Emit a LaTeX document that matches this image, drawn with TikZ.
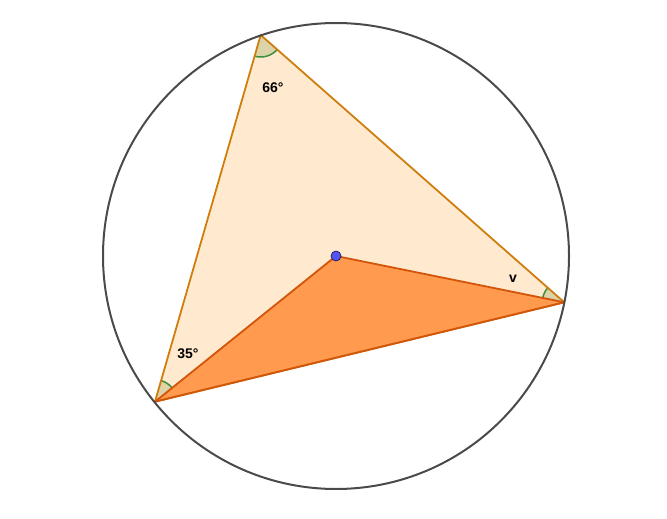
\documentclass[tikz,border=0pt]{standalone}
\usepackage{fontspec}
\setmainfont{Liberation Sans}
\usetikzlibrary{angles}
\definecolor{trifill}{HTML}{FFE9CF}
\definecolor{tristroke}{HTML}{CF7E0E}
\definecolor{innerfill}{HTML}{FF9A4E}
\definecolor{innerstroke}{HTML}{D2550A}
\definecolor{circcol}{HTML}{4A4A4A}
\definecolor{angfill}{HTML}{DDD3A8}
\definecolor{angstroke}{HTML}{3D8F3D}
\definecolor{ptfill}{HTML}{5454F2}
\definecolor{ptstroke}{HTML}{24246E}
\tikzset{
  anglemark/.style={draw=angstroke, line width=1.5pt, fill=angfill, angle radius=22pt},
  lbl/.style={font=\bfseries\fontsize{14}{16}\selectfont, text=black, inner sep=0pt},
}
\begin{document}
\begin{tikzpicture}[x=1pt,y=-1pt]
\useasboundingbox (0,0) rectangle (667,519);
\coordinate (A) at (260.7,35);
\coordinate (B) at (155,401.7);
\coordinate (C) at (564.3,302.3);
\coordinate (O) at (336,256);
% big triangle
\fill[trifill] (A) -- (B) -- (C) -- cycle;
% inner triangle
\fill[innerfill] (O) -- (B) -- (C) -- cycle;
% angle marks
\pic[anglemark] {angle = B--A--C};
\pic[anglemark] {angle = O--B--A};
\pic[anglemark] {angle = A--C--O};
% edges
\draw[tristroke, line width=1.8pt, line join=round] (A) -- (B) -- (C) -- cycle;
\draw[innerstroke, line width=1.8pt, line join=round] (B) -- (O) -- (C);
\draw[innerstroke, line width=1.8pt] (B) -- (C);
% circle
\draw[circcol, line width=2pt] (O) circle (233);
% center point
\node[circle, fill=ptfill, draw=ptstroke, line width=0.8pt, minimum size=10pt, inner sep=0pt] (Opt) at (O) {};
% labels
\node[lbl] (la) at (273,88) {66°};
\node[lbl] (lb) at (188,354) {35°};
\node[lbl] (lc) at (513,279) {v};
\end{tikzpicture}
\end{document}
